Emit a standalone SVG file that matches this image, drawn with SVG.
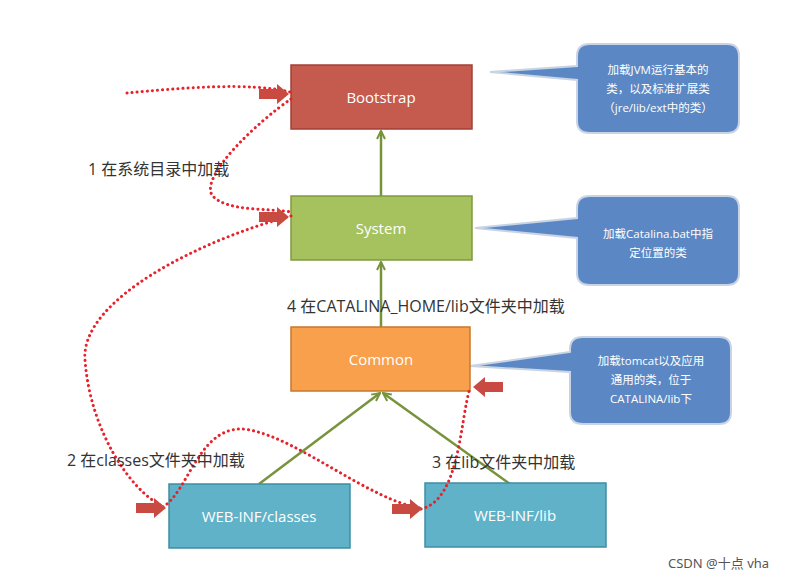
<svg xmlns="http://www.w3.org/2000/svg" width="807" height="579" viewBox="0 0 807 579">
<style>
.box{stroke-width:1.5}
.bt{font-family:"Open Sans","Liberation Sans",sans-serif;font-size:15px;fill:#fff;text-anchor:middle}
.call{fill:#5b88c4;stroke:#c8d3e3;stroke-width:2}
.ct{font-family:"Open Sans","Noto Sans CJK SC",sans-serif;font-size:11.5px;fill:#fff;text-anchor:middle}
.lbl{font-family:"Open Sans","Noto Sans CJK SC",sans-serif;font-size:16px;fill:#333}
.g{stroke:#77933c;stroke-width:2.5;fill:none;marker-end:url(#ga)}
.dot{stroke:#e8222a;stroke-width:3;fill:none;stroke-dasharray:0.1 5;stroke-linecap:round}
.ra{fill:#c94a40}
</style>
<defs>
<marker id="ga" viewBox="0 0 10 10" refX="9" refY="5" markerWidth="4" markerHeight="4" orient="auto"><path d="M1,1 L9,5 L1,9" fill="none" stroke="#77933c" stroke-width="2"/></marker>
<path id="blk" d="M0,-5 H18 V-10 L30,0 L18,10 V5 H0 Z"/>
</defs>
<rect width="807" height="579" fill="#fff"/>
<g id="callout1"><path class="call" d="M590,44 H727 Q739,44 739,56 V121 Q739,133 727,133 H590 Q577,133 577,121 V80 L490,72 L577,66 V56 Q577,44 590,44 Z"/>
<text class="ct" x="658" y="74">加载JVM运行基本的</text><text class="ct" x="658" y="93">类，以及标准扩展类</text><text class="ct" x="658" y="112">（jre/lib/ext中的类）</text></g>
<g id="callout2"><path class="call" d="M590,196 H727 Q739,196 739,208 V273 Q739,285 727,285 H590 Q577,285 577,273 V238 L475,228 L577,218 V208 Q577,196 590,196 Z"/>
<text class="ct" x="658" y="238">加载Catalina.bat中指</text><text class="ct" x="658" y="257">定位置的类</text></g>
<g id="callout3"><path class="call" d="M583,337 H719 Q731,337 731,349 V412 Q731,424 719,424 H583 Q570,424 570,412 V372 L470,366 L570,352 V349 Q570,337 583,337 Z"/>
<text class="ct" x="651" y="365">加载tomcat以及应用</text><text class="ct" x="651" y="384">通用的类，位于</text><text class="ct" x="651" y="403">CATALINA/lib下</text></g>
<g id="connectors">
<path class="g" d="M381,196 V131"/>
<path class="g" d="M381,327 V262"/>
<path class="g" d="M259,484 L380,393"/>
<path class="g" d="M510,484 L383,393"/>
</g>
<g id="bootstrap"><rect class="box" x="291" y="65" width="181" height="64" fill="#c55a4e" stroke="#a34037"/><text class="bt" x="381" y="103">Bootstrap</text></g>
<g id="system"><rect class="box" x="291" y="196" width="181" height="64" fill="#a5c25e" stroke="#7d9a3f"/><text class="bt" x="381" y="234">System</text></g>
<g id="common"><rect class="box" x="291" y="327" width="179" height="64" fill="#f8a04c" stroke="#c8782c"/><text class="bt" x="381" y="365">Common</text></g>
<g id="webinf-classes"><rect class="box" x="169" y="484" width="181" height="64" fill="#5fb2c7" stroke="#3f8ea3"/><text class="bt" x="259" y="522">WEB-INF/classes</text></g>
<g id="webinf-lib"><rect class="box" x="425" y="483" width="181" height="64" fill="#5fb2c7" stroke="#3f8ea3"/><text class="bt" x="515" y="521">WEB-INF/lib</text></g>
<g id="path">
<path class="dot" d="M127,93 C180,88 250,82 290,92"/>
<path class="dot" d="M291,99 C260,120 200,175 212,195 C225,212 270,208 291,212"/>
<path class="dot" d="M291,216 C200,240 80,300 85,360 C90,430 130,490 162,506"/>
<path class="dot" d="M163,507 C190,490 200,420 250,430 C300,440 370,500 420,508"/>
<path class="dot" d="M421,509 C460,500 460,420 470,388"/>
<use href="#blk" class="ra" x="259" y="94"/>
<use href="#blk" class="ra" x="259" y="217"/>
<use href="#blk" class="ra" x="136" y="508"/>
<use href="#blk" class="ra" x="392" y="509"/>
<use href="#blk" class="ra" transform="translate(503,387) scale(-1,1)"/>
</g>
<text class="lbl" x="88" y="175">1 在系统目录中加载</text>
<text class="lbl" x="287" y="312">4 在CATALINA_HOME/lib文件夹中加载</text>
<text class="lbl" x="67" y="466">2 在classes文件夹中加载</text>
<text class="lbl" x="432" y="468">3 在lib文件夹中加载</text>
<text x="668" y="568" style="font-family:'Noto Sans','Noto Sans CJK SC',sans-serif;font-size:13px;fill:#555">CSDN @十点 vha</text>
</svg>
